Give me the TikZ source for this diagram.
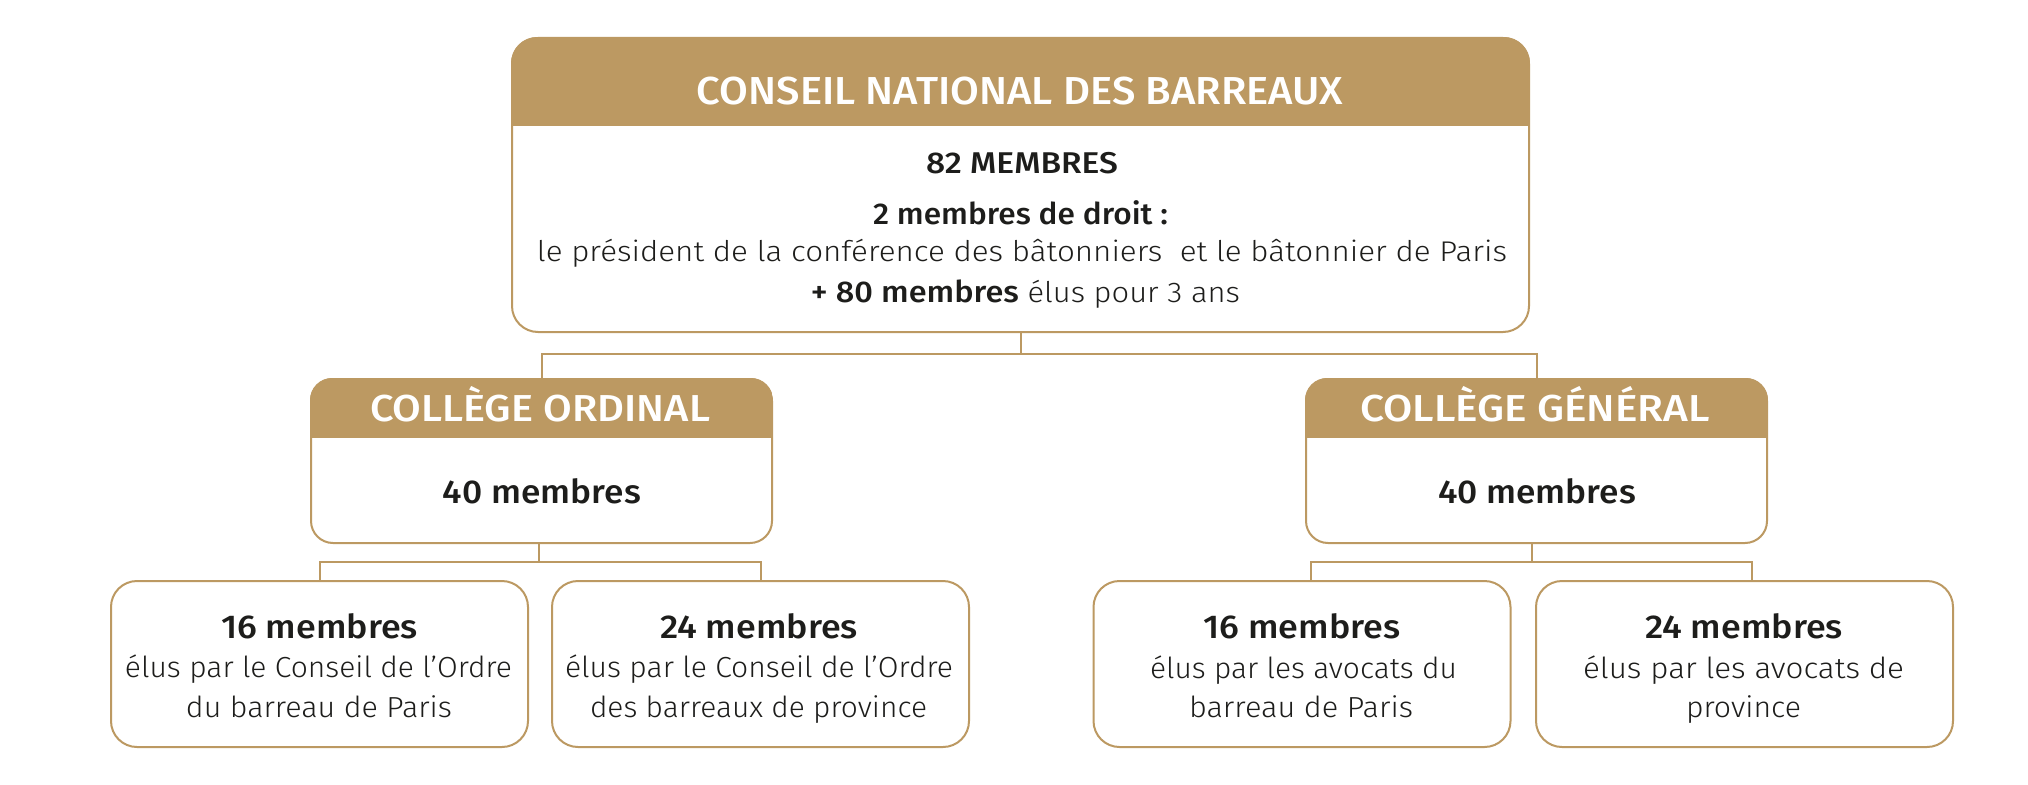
\documentclass[tikz,border=0pt]{standalone}
\usepackage{fontspec}
\usepackage{graphicx}
\setmainfont{Fira Sans}
\IfFontExistsTF{Fira Sans Light}{\newfontfamily\lightf{Fira Sans Light}}{\newfontfamily\lightf{Fira Sans}}
\IfFontExistsTF{Fira Sans Medium}{\newfontfamily\boldf{Fira Sans Medium}}{\newfontfamily\boldf{Fira Sans}[FakeBold=1]}
\definecolor{gold}{RGB}{188,153,98}
\definecolor{ink}{RGB}{29,29,27}
\newcommand{\fw}[2]{\resizebox{#1pt}{\height}{#2}}
\tikzset{
  panel/.style={draw=gold, line width=2pt, fill=white, inner sep=0pt},
  bigpanel/.style={panel, rounded corners=26pt, minimum width=1017pt, minimum height=294pt},
  colpanel/.style={panel, rounded corners=22pt, minimum width=461pt, minimum height=164pt},
  leafpanel/.style={panel, rounded corners=26pt, minimum width=417pt, minimum height=166pt},
  link/.style={draw=gold, line width=2pt},
  txt/.style={anchor=base, inner sep=0pt, text=ink},
  headtxt/.style={txt, text=white, font=\boldf\fontsize{39}{44}\selectfont},
  coltxt/.style={txt, text=white, font=\boldf\fontsize{37.5}{42}\selectfont},
  strongtxt/.style={txt, font=\boldf\fontsize{30}{36}\selectfont},
  numtxt/.style={txt, font=\boldf\fontsize{33}{38}\selectfont},
  lighttxt/.style={txt, font=\lightf\fontsize{28.5}{34}\selectfont},
  leaftxt/.style={txt, font=\lightf\fontsize{29}{34}\selectfont},
}
\begin{document}
\begin{tikzpicture}[x=1pt,y=-1pt]
\useasboundingbox[fill=white] (0,0) rectangle (2028,784);

% ---- boxes
\node[bigpanel] (cnb) at (1020.5,185) {};
\node[colpanel] (colO) at (541.5,461) {};
\node[colpanel] (colG) at (1536.5,461) {};
\node[leafpanel] (b1) at (319.5,664) {};
\node[leafpanel] (b2) at (760.5,664) {};
\node[leafpanel] (b3) at (1302,664) {};
\node[leafpanel] (b4) at (1744.5,664) {};

% ---- header bands
\coordinate (hcnb) at (0,126);
\coordinate (hcol) at (0,438);
\begin{scope}
  \clip[rounded corners=26pt] (cnb.south west) rectangle (cnb.north east);
  \fill[gold] (cnb.north west) rectangle (cnb.east |- hcnb);
\end{scope}
\begin{scope}
  \clip[rounded corners=22pt] (colO.south west) rectangle (colO.north east);
  \fill[gold] (colO.north west) rectangle (colO.east |- hcol);
\end{scope}
\begin{scope}
  \clip[rounded corners=22pt] (colG.south west) rectangle (colG.north east);
  \fill[gold] (colG.north west) rectangle (colG.east |- hcol);
\end{scope}

% ---- connectors
\coordinate (jt) at (0,354);
\coordinate (jl) at (0,562);
\draw[link] (cnb.south) -- (cnb.south |- jt);
\draw[link] (colO.north) -- (colO.north |- jt) -- (colG.north |- jt) -- (colG.north);
\draw[link] ([xshift=-3pt]colO.south) -- ([xshift=-3pt]colO.south |- jl);
\draw[link] (b1.north) -- (b1.north |- jl) -- (b2.north |- jl) -- (b2.north);
\draw[link] ([xshift=-5pt]colG.south) -- ([xshift=-5pt]colG.south |- jl);
\draw[link] ([xshift=9pt]b3.north) -- ([xshift=9pt]b3.north |- jl) -- ([xshift=7.5pt]b4.north |- jl) -- ([xshift=7.5pt]b4.north);

% ---- texts: top box
\node[headtxt] (t1) at (1020,104) {\fw{646}{CONSEIL NATIONAL DES BARREAUX}};
\node[strongtxt] (t2) at (1022,173) {\fw{192}{82 MEMBRES}};
\node[strongtxt] (t3) at (1020.5,224) {\fw{295}{2 membres de droit :}};
\node[lighttxt] (t4) at (1022,261) {\fw{970}{le président de la conférence des bâtonniers\ \ et le bâtonnier de Paris}};
\node[lighttxt] (t5) at (1025.5,302) {\fw{429}{{\boldf\fontsize{30}{36}\selectfont + 80 membres} élus pour 3 ans}};

% ---- colleges
\node[coltxt] (t6) at (540,421) {\fw{340}{COLLÈGE ORDINAL}};
\node[numtxt] (t7) at (542,503) {\fw{198}{40 membres}};
\node[coltxt] (t8) at (1535,421) {\fw{350}{COLLÈGE GÉNÉRAL}};
\node[numtxt] (t9) at (1537,503) {\fw{198}{40 membres}};

% ---- leaves
\node[numtxt] (l1a) at (319.5,638) {\fw{197}{16 membres}};
\node[leaftxt] (l1b) at (318.5,677) {\fw{387}{élus par le Conseil de l’Ordre}};
\node[leaftxt] (l1c) at (319,717) {\fw{266}{du barreau de Paris}};

\node[numtxt] (l2a) at (759,638) {\fw{198}{24 membres}};
\node[leaftxt] (l2b) at (759,677) {\fw{388}{élus par le Conseil de l’Ordre}};
\node[leaftxt] (l2c) at (758.5,717) {\fw{337}{des barreaux de province}};

\node[numtxt] (l3a) at (1302,638) {\fw{197}{16 membres}};
\node[leaftxt] (l3b) at (1303.5,678) {\fw{307}{élus par les avocats du}};
\node[leaftxt] (l3c) at (1301,717) {\fw{224}{barreau de Paris}};

\node[numtxt] (l4a) at (1744,638) {\fw{198}{24 membres}};
\node[leaftxt] (l4b) at (1743.5,678) {\fw{321}{élus par les avocats de}};
\node[leaftxt] (l4c) at (1743.5,717) {\fw{115}{province}};
\end{tikzpicture}
\end{document}
